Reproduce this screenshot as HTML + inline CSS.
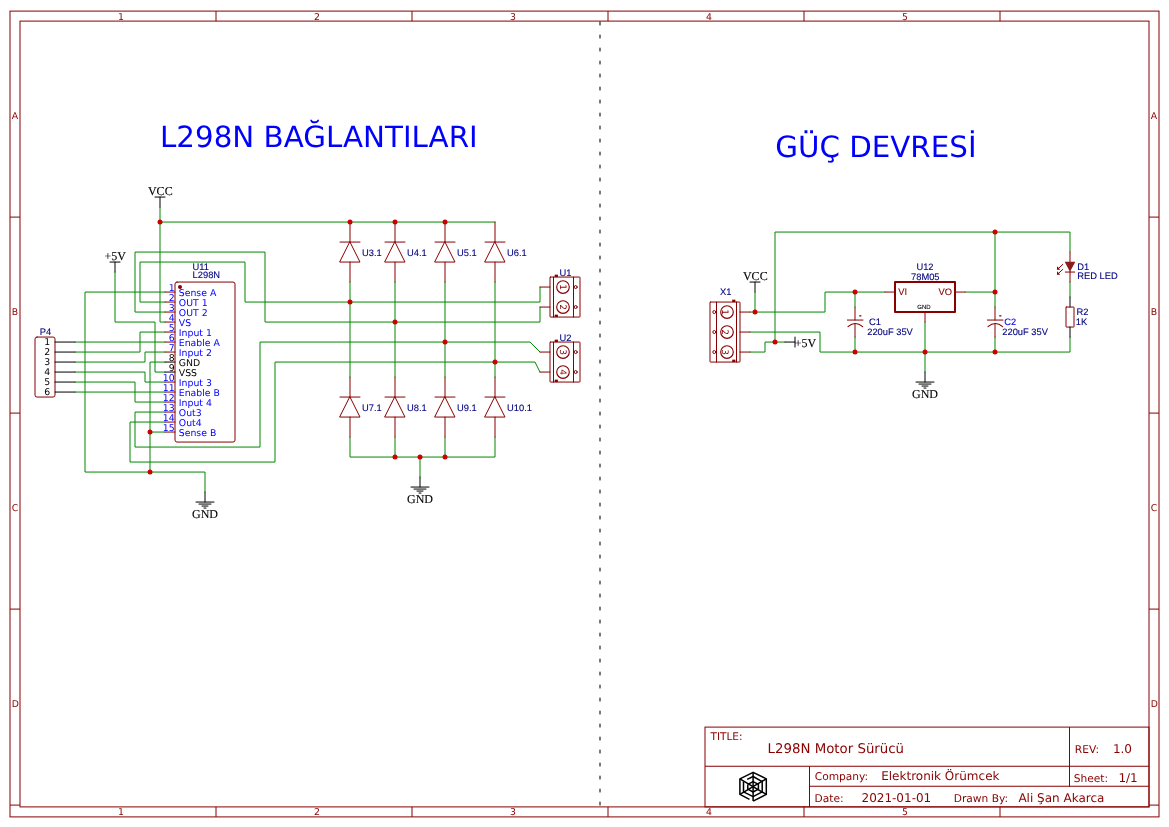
<!DOCTYPE html>
<html lang="tr">
<head>
<meta charset="utf-8">
<title>L298N Motor Sürücü</title>
<style>
html,body{margin:0;padding:0;background:#fff;}
body{width:1169px;height:827px;overflow:hidden;}
svg{display:block;will-change:transform;}
text{white-space:pre;text-rendering:geometricPrecision;}
.dj{font-family:"DejaVu Sans","Liberation Sans",sans-serif;}
.ar{font-family:"Liberation Sans","DejaVu Sans",sans-serif;}
.tm{font-family:"Liberation Serif","DejaVu Serif",serif;}
</style>
</head>
<body>
<svg width="1169" height="827" viewBox="0 0 1169 827">
<rect x="0" y="0" width="1169" height="827" fill="#ffffff"/>
<g id="frame" fill="none" stroke="#880000" stroke-width="1">
<rect x="10" y="11.1" width="1149" height="805.8"/>
<rect x="20" y="21.1" width="1129" height="785.8"/>
<line x1="216" y1="11.1" x2="216" y2="21.1"/>
<line x1="216" y1="806.9" x2="216" y2="816.9"/>
<line x1="412" y1="11.1" x2="412" y2="21.1"/>
<line x1="412" y1="806.9" x2="412" y2="816.9"/>
<line x1="608" y1="11.1" x2="608" y2="21.1"/>
<line x1="608" y1="806.9" x2="608" y2="816.9"/>
<line x1="804" y1="11.1" x2="804" y2="21.1"/>
<line x1="804" y1="806.9" x2="804" y2="816.9"/>
<line x1="1000" y1="11.1" x2="1000" y2="21.1"/>
<line x1="1000" y1="806.9" x2="1000" y2="816.9"/>
<line x1="10" y1="217.1" x2="20" y2="217.1"/>
<line x1="1149" y1="217.1" x2="1159" y2="217.1"/>
<line x1="10" y1="413.1" x2="20" y2="413.1"/>
<line x1="1149" y1="413.1" x2="1159" y2="413.1"/>
<line x1="10" y1="609.1" x2="20" y2="609.1"/>
<line x1="1149" y1="609.1" x2="1159" y2="609.1"/>
<line x1="10" y1="805.1" x2="20" y2="805.1"/>
<line x1="1149" y1="805.1" x2="1159" y2="805.1"/>
</g>
<text transform="matrix(1 0.0004 0 1 118 19.55)" class="dj" font-size="9.33" fill="#880000" >1</text>
<text transform="matrix(1 0.0004 0 1 118 815)" class="dj" font-size="9.33" fill="#880000" >1</text>
<text transform="matrix(1 0.0004 0 1 314 19.55)" class="dj" font-size="9.33" fill="#880000" >2</text>
<text transform="matrix(1 0.0004 0 1 314 815)" class="dj" font-size="9.33" fill="#880000" >2</text>
<text transform="matrix(1 0.0004 0 1 510 19.55)" class="dj" font-size="9.33" fill="#880000" >3</text>
<text transform="matrix(1 0.0004 0 1 510 815)" class="dj" font-size="9.33" fill="#880000" >3</text>
<text transform="matrix(1 0.0004 0 1 706 19.55)" class="dj" font-size="9.33" fill="#880000" >4</text>
<text transform="matrix(1 0.0004 0 1 706 815)" class="dj" font-size="9.33" fill="#880000" >4</text>
<text transform="matrix(1 0.0004 0 1 902 19.55)" class="dj" font-size="9.33" fill="#880000" >5</text>
<text transform="matrix(1 0.0004 0 1 902 815)" class="dj" font-size="9.33" fill="#880000" >5</text>
<text transform="matrix(1 0.0004 0 1 11.7 118.8)" class="dj" font-size="9.33" fill="#880000" >A</text>
<text transform="matrix(1 0.0004 0 1 1150.7 118.8)" class="dj" font-size="9.33" fill="#880000" >A</text>
<text transform="matrix(1 0.0004 0 1 11.7 314.8)" class="dj" font-size="9.33" fill="#880000" >B</text>
<text transform="matrix(1 0.0004 0 1 1150.7 314.8)" class="dj" font-size="9.33" fill="#880000" >B</text>
<text transform="matrix(1 0.0004 0 1 11.7 510.8)" class="dj" font-size="9.33" fill="#880000" >C</text>
<text transform="matrix(1 0.0004 0 1 1150.7 510.8)" class="dj" font-size="9.33" fill="#880000" >C</text>
<text transform="matrix(1 0.0004 0 1 11.7 706.8)" class="dj" font-size="9.33" fill="#880000" >D</text>
<text transform="matrix(1 0.0004 0 1 1150.7 706.8)" class="dj" font-size="9.33" fill="#880000" >D</text>
<g id="sch" transform="translate(0,0.05)" stroke-linecap="round" stroke-linejoin="round">
<g id="wires">
<polyline points="160,207 160,322 165,322" stroke="#008800" stroke-width="1" fill="none" />
<polyline points="160,222 495,222" stroke="#008800" stroke-width="1" fill="none" />
<polyline points="115,272 115,322 155,322 155,372 165,372" stroke="#008800" stroke-width="1" fill="none" />
<polyline points="75,342 165,342" stroke="#008800" stroke-width="1" fill="none" />
<polyline points="75,352 140,352 140,332 165,332" stroke="#008800" stroke-width="1" fill="none" />
<polyline points="75,362 145,362 145,352 165,352" stroke="#008800" stroke-width="1" fill="none" />
<polyline points="75,372 145,372 145,382 165,382" stroke="#008800" stroke-width="1" fill="none" />
<polyline points="75,382 135,382 135,402 165,402" stroke="#008800" stroke-width="1" fill="none" />
<polyline points="75,392 165,392" stroke="#008800" stroke-width="1" fill="none" />
<polyline points="165,292 85,292 85,472 205,472 205,492" stroke="#008800" stroke-width="1" fill="none" />
<polyline points="165,362 150,362 150,472" stroke="#008800" stroke-width="1" fill="none" />
<polyline points="165,432 150,432" stroke="#008800" stroke-width="1" fill="none" />
<polyline points="165,302 140,302 140,262 245,262 245,302 540,302 540,287" stroke="#008800" stroke-width="1" fill="none" />
<polyline points="165,312 135,312 135,252 265,252 265,322 540,322 540,307" stroke="#008800" stroke-width="1" fill="none" />
<polyline points="165,412 135,412 135,447 260,447 260,342 530,342 540,352" stroke="#008800" stroke-width="1" fill="none" />
<polyline points="165,422 130,422 130,462 275,462 275,362 535,362 540,372" stroke="#008800" stroke-width="1" fill="none" />
<polyline points="350,282 350,377" stroke="#008800" stroke-width="1" fill="none" />
<polyline points="395,282 395,377" stroke="#008800" stroke-width="1" fill="none" />
<polyline points="445,282 445,377" stroke="#008800" stroke-width="1" fill="none" />
<polyline points="495,282 495,377" stroke="#008800" stroke-width="1" fill="none" />
<polyline points="350,437 350,457 495,457 495,437" stroke="#008800" stroke-width="1" fill="none" />
<polyline points="395,437 395,457" stroke="#008800" stroke-width="1" fill="none" />
<polyline points="445,437 445,457" stroke="#008800" stroke-width="1" fill="none" />
<polyline points="420,457 420,477" stroke="#008800" stroke-width="1" fill="none" />
<polyline points="755,292 755,312" stroke="#008800" stroke-width="1" fill="none" />
<polyline points="750,312 825,312 825,292 885,292" stroke="#008800" stroke-width="1" fill="none" />
<polyline points="750,332 820,332 820,352 1070,352 1070,337" stroke="#008800" stroke-width="1" fill="none" />
<polyline points="750,352 765,352 765,342 785,342" stroke="#008800" stroke-width="1" fill="none" />
<polyline points="775,342 775,232 1070,232 1070,252" stroke="#008800" stroke-width="1" fill="none" />
<polyline points="995,232 995,307" stroke="#008800" stroke-width="1" fill="none" />
<polyline points="995,337 995,352" stroke="#008800" stroke-width="1" fill="none" />
<polyline points="855,292 855,307" stroke="#008800" stroke-width="1" fill="none" />
<polyline points="855,337 855,352" stroke="#008800" stroke-width="1" fill="none" />
<polyline points="965,292 995,292" stroke="#008800" stroke-width="1" fill="none" />
<polyline points="925,322 925,372" stroke="#008800" stroke-width="1" fill="none" />
<polyline points="1070,282 1070,297" stroke="#008800" stroke-width="1" fill="none" />
</g>
<line x1="350" y1="222" x2="350" y2="242" stroke="#880000" stroke-width="1" />
<line x1="340" y1="242" x2="360" y2="242" stroke="#880000" stroke-width="1" />
<polygon points="350,242 360,262 340,262" fill="none" stroke="#880000" stroke-width="1.0"/>
<line x1="350" y1="262" x2="350" y2="282" stroke="#880000" stroke-width="1" />
<text transform="matrix(1 0.0004 0 1 362.1 255.65)" class="ar" font-size="9.33" fill="#000080" stroke="#000080" stroke-width="0.1" >U3.1</text>
<line x1="350" y1="377" x2="350" y2="397" stroke="#880000" stroke-width="1" />
<line x1="340" y1="397" x2="360" y2="397" stroke="#880000" stroke-width="1" />
<polygon points="350,397 360,417 340,417" fill="none" stroke="#880000" stroke-width="1.0"/>
<line x1="350" y1="417" x2="350" y2="437" stroke="#880000" stroke-width="1" />
<text transform="matrix(1 0.0004 0 1 362.1 410.65)" class="ar" font-size="9.33" fill="#000080" stroke="#000080" stroke-width="0.1" >U7.1</text>
<line x1="395" y1="222" x2="395" y2="242" stroke="#880000" stroke-width="1" />
<line x1="385" y1="242" x2="405" y2="242" stroke="#880000" stroke-width="1" />
<polygon points="395,242 405,262 385,262" fill="none" stroke="#880000" stroke-width="1.0"/>
<line x1="395" y1="262" x2="395" y2="282" stroke="#880000" stroke-width="1" />
<text transform="matrix(1 0.0004 0 1 407.1 255.65)" class="ar" font-size="9.33" fill="#000080" stroke="#000080" stroke-width="0.1" >U4.1</text>
<line x1="395" y1="377" x2="395" y2="397" stroke="#880000" stroke-width="1" />
<line x1="385" y1="397" x2="405" y2="397" stroke="#880000" stroke-width="1" />
<polygon points="395,397 405,417 385,417" fill="none" stroke="#880000" stroke-width="1.0"/>
<line x1="395" y1="417" x2="395" y2="437" stroke="#880000" stroke-width="1" />
<text transform="matrix(1 0.0004 0 1 407.1 410.65)" class="ar" font-size="9.33" fill="#000080" stroke="#000080" stroke-width="0.1" >U8.1</text>
<line x1="445" y1="222" x2="445" y2="242" stroke="#880000" stroke-width="1" />
<line x1="435" y1="242" x2="455" y2="242" stroke="#880000" stroke-width="1" />
<polygon points="445,242 455,262 435,262" fill="none" stroke="#880000" stroke-width="1.0"/>
<line x1="445" y1="262" x2="445" y2="282" stroke="#880000" stroke-width="1" />
<text transform="matrix(1 0.0004 0 1 457.1 255.65)" class="ar" font-size="9.33" fill="#000080" stroke="#000080" stroke-width="0.1" >U5.1</text>
<line x1="445" y1="377" x2="445" y2="397" stroke="#880000" stroke-width="1" />
<line x1="435" y1="397" x2="455" y2="397" stroke="#880000" stroke-width="1" />
<polygon points="445,397 455,417 435,417" fill="none" stroke="#880000" stroke-width="1.0"/>
<line x1="445" y1="417" x2="445" y2="437" stroke="#880000" stroke-width="1" />
<text transform="matrix(1 0.0004 0 1 457.1 410.65)" class="ar" font-size="9.33" fill="#000080" stroke="#000080" stroke-width="0.1" >U9.1</text>
<line x1="495" y1="222" x2="495" y2="242" stroke="#880000" stroke-width="1" />
<line x1="485" y1="242" x2="505" y2="242" stroke="#880000" stroke-width="1" />
<polygon points="495,242 505,262 485,262" fill="none" stroke="#880000" stroke-width="1.0"/>
<line x1="495" y1="262" x2="495" y2="282" stroke="#880000" stroke-width="1" />
<text transform="matrix(1 0.0004 0 1 507.1 255.65)" class="ar" font-size="9.33" fill="#000080" stroke="#000080" stroke-width="0.1" >U6.1</text>
<line x1="495" y1="377" x2="495" y2="397" stroke="#880000" stroke-width="1" />
<line x1="485" y1="397" x2="505" y2="397" stroke="#880000" stroke-width="1" />
<polygon points="495,397 505,417 485,417" fill="none" stroke="#880000" stroke-width="1.0"/>
<line x1="495" y1="417" x2="495" y2="437" stroke="#880000" stroke-width="1" />
<text transform="matrix(1 0.0004 0 1 507.1 410.65)" class="ar" font-size="9.33" fill="#000080" stroke="#000080" stroke-width="0.1" >U10.1</text>
<rect x="35" y="337" width="20" height="60" rx="2" fill="none" stroke="#880000" stroke-width="1.0"/>
<line x1="55" y1="342" x2="75" y2="342" stroke="#000" stroke-width="1" />
<text transform="matrix(1 0.0004 0 1 44.2 345.1)" class="dj" font-size="9.33" fill="#000" >1</text>
<line x1="55" y1="352" x2="75" y2="352" stroke="#000" stroke-width="1" />
<text transform="matrix(1 0.0004 0 1 44.2 355.1)" class="dj" font-size="9.33" fill="#000" >2</text>
<line x1="55" y1="362" x2="75" y2="362" stroke="#000" stroke-width="1" />
<text transform="matrix(1 0.0004 0 1 44.2 365.1)" class="dj" font-size="9.33" fill="#000" >3</text>
<line x1="55" y1="372" x2="75" y2="372" stroke="#000" stroke-width="1" />
<text transform="matrix(1 0.0004 0 1 44.2 375.1)" class="dj" font-size="9.33" fill="#000" >4</text>
<line x1="55" y1="382" x2="75" y2="382" stroke="#000" stroke-width="1" />
<text transform="matrix(1 0.0004 0 1 44.2 385.1)" class="dj" font-size="9.33" fill="#000" >5</text>
<line x1="55" y1="392" x2="75" y2="392" stroke="#000" stroke-width="1" />
<text transform="matrix(1 0.0004 0 1 44.2 395.1)" class="dj" font-size="9.33" fill="#000" >6</text>
<text transform="matrix(1 0.0004 0 1 39.7 334.6)" class="ar" font-size="9.33" fill="#000080" stroke="#000080" stroke-width="0.1" >P4</text>
<rect x="175" y="282" width="60" height="160" rx="2" fill="none" stroke="#880000" stroke-width="1.0"/>
<circle cx="180" cy="286.9" r="2" fill="#880000"/>
<line x1="165" y1="292" x2="175" y2="292" stroke="#880000" stroke-width="1" />
<text transform="matrix(1 0.0004 0 1 174.6 291.3)" class="dj" font-size="9.33" fill="#0000ff" text-anchor="end" >1</text>
<text transform="matrix(1 0.0004 0 1 178.8 295.6)" class="dj" font-size="9.33" fill="#0000ff" >Sense A</text>
<line x1="165" y1="302" x2="175" y2="302" stroke="#880000" stroke-width="1" />
<text transform="matrix(1 0.0004 0 1 174.6 301.3)" class="dj" font-size="9.33" fill="#0000ff" text-anchor="end" >2</text>
<text transform="matrix(1 0.0004 0 1 178.8 305.6)" class="dj" font-size="9.33" fill="#0000ff" >OUT 1</text>
<line x1="165" y1="312" x2="175" y2="312" stroke="#880000" stroke-width="1" />
<text transform="matrix(1 0.0004 0 1 174.6 311.3)" class="dj" font-size="9.33" fill="#0000ff" text-anchor="end" >3</text>
<text transform="matrix(1 0.0004 0 1 178.8 315.6)" class="dj" font-size="9.33" fill="#0000ff" >OUT 2</text>
<line x1="165" y1="322" x2="175" y2="322" stroke="#880000" stroke-width="1" />
<text transform="matrix(1 0.0004 0 1 174.6 321.3)" class="dj" font-size="9.33" fill="#0000ff" text-anchor="end" >4</text>
<text transform="matrix(1 0.0004 0 1 178.8 325.6)" class="dj" font-size="9.33" fill="#0000ff" >VS</text>
<line x1="165" y1="332" x2="175" y2="332" stroke="#880000" stroke-width="1" />
<text transform="matrix(1 0.0004 0 1 174.6 331.3)" class="dj" font-size="9.33" fill="#0000ff" text-anchor="end" >5</text>
<text transform="matrix(1 0.0004 0 1 178.8 335.6)" class="dj" font-size="9.33" fill="#0000ff" >Input 1</text>
<line x1="165" y1="342" x2="175" y2="342" stroke="#880000" stroke-width="1" />
<text transform="matrix(1 0.0004 0 1 174.6 341.3)" class="dj" font-size="9.33" fill="#0000ff" text-anchor="end" >6</text>
<text transform="matrix(1 0.0004 0 1 178.8 345.6)" class="dj" font-size="9.33" fill="#0000ff" >Enable A</text>
<line x1="165" y1="352" x2="175" y2="352" stroke="#880000" stroke-width="1" />
<text transform="matrix(1 0.0004 0 1 174.6 351.3)" class="dj" font-size="9.33" fill="#0000ff" text-anchor="end" >7</text>
<text transform="matrix(1 0.0004 0 1 178.8 355.6)" class="dj" font-size="9.33" fill="#0000ff" >Input 2</text>
<line x1="165" y1="362" x2="175" y2="362" stroke="#000" stroke-width="1" />
<text transform="matrix(1 0.0004 0 1 174.6 361.3)" class="dj" font-size="9.33" fill="#000" text-anchor="end" >8</text>
<text transform="matrix(1 0.0004 0 1 178.8 365.6)" class="dj" font-size="9.33" fill="#000" >GND</text>
<line x1="165" y1="372" x2="175" y2="372" stroke="#000" stroke-width="1" />
<text transform="matrix(1 0.0004 0 1 174.6 371.3)" class="dj" font-size="9.33" fill="#000" text-anchor="end" >9</text>
<text transform="matrix(1 0.0004 0 1 178.8 375.6)" class="dj" font-size="9.33" fill="#000" >VSS</text>
<line x1="165" y1="382" x2="175" y2="382" stroke="#880000" stroke-width="1" />
<text transform="matrix(1 0.0004 0 1 174.6 381.3)" class="dj" font-size="9.33" fill="#0000ff" text-anchor="end" >10</text>
<text transform="matrix(1 0.0004 0 1 178.8 385.6)" class="dj" font-size="9.33" fill="#0000ff" >Input 3</text>
<line x1="165" y1="392" x2="175" y2="392" stroke="#880000" stroke-width="1" />
<text transform="matrix(1 0.0004 0 1 174.6 391.3)" class="dj" font-size="9.33" fill="#0000ff" text-anchor="end" >11</text>
<text transform="matrix(1 0.0004 0 1 178.8 395.6)" class="dj" font-size="9.33" fill="#0000ff" >Enable B</text>
<line x1="165" y1="402" x2="175" y2="402" stroke="#880000" stroke-width="1" />
<text transform="matrix(1 0.0004 0 1 174.6 401.3)" class="dj" font-size="9.33" fill="#0000ff" text-anchor="end" >12</text>
<text transform="matrix(1 0.0004 0 1 178.8 405.6)" class="dj" font-size="9.33" fill="#0000ff" >Input 4</text>
<line x1="165" y1="412" x2="175" y2="412" stroke="#880000" stroke-width="1" />
<text transform="matrix(1 0.0004 0 1 174.6 411.3)" class="dj" font-size="9.33" fill="#0000ff" text-anchor="end" >13</text>
<text transform="matrix(1 0.0004 0 1 178.8 415.6)" class="dj" font-size="9.33" fill="#0000ff" >Out3</text>
<line x1="165" y1="422" x2="175" y2="422" stroke="#880000" stroke-width="1" />
<text transform="matrix(1 0.0004 0 1 174.6 421.3)" class="dj" font-size="9.33" fill="#0000ff" text-anchor="end" >14</text>
<text transform="matrix(1 0.0004 0 1 178.8 425.6)" class="dj" font-size="9.33" fill="#0000ff" >Out4</text>
<line x1="165" y1="432" x2="175" y2="432" stroke="#880000" stroke-width="1" />
<text transform="matrix(1 0.0004 0 1 174.6 431.3)" class="dj" font-size="9.33" fill="#0000ff" text-anchor="end" >15</text>
<text transform="matrix(1 0.0004 0 1 178.8 435.6)" class="dj" font-size="9.33" fill="#0000ff" >Sense B</text>
<text transform="matrix(1 0.0004 0 1 192.6 269.6)" class="ar" font-size="9.33" fill="#000080" stroke="#000080" stroke-width="0.1" >U11</text>
<text transform="matrix(1 0.0004 0 1 192.6 278.1)" class="ar" font-size="9.33" fill="#000080" stroke="#000080" stroke-width="0.1" >L298N</text>
<rect x="550" y="277" width="30" height="40" rx="0.4" fill="none" stroke="#880000" stroke-width="1.0"/>
<line x1="553.5" y1="277" x2="553.5" y2="317" stroke="#880000" stroke-width="1" />
<line x1="573.5" y1="277" x2="573.5" y2="317" stroke="#880000" stroke-width="1" />
<rect x="554.7" y="274.6" width="3.2" height="2.4" fill="#880000"/>
<rect x="554.7" y="314.6" width="3.2" height="2.4" fill="#880000"/>
<circle cx="563" cy="287" r="6.3" fill="none" stroke="#880000" stroke-width="1.15"/>
<circle cx="575.7" cy="287" r="1.5" fill="none" stroke="#880000" stroke-width="1"/>
<text transform="translate(560.1,287) rotate(90)" text-anchor="middle" class="dj" font-size="9" fill="#880000">1</text>
<line x1="540" y1="287" x2="550" y2="287" stroke="#880000" stroke-width="1" />
<circle cx="563" cy="307" r="6.3" fill="none" stroke="#880000" stroke-width="1.15"/>
<circle cx="575.7" cy="307" r="1.5" fill="none" stroke="#880000" stroke-width="1"/>
<text transform="translate(560.1,307) rotate(90)" text-anchor="middle" class="dj" font-size="9" fill="#880000">2</text>
<line x1="540" y1="307" x2="550" y2="307" stroke="#880000" stroke-width="1" />
<text transform="matrix(1 0.0004 0 1 559.5 275.7)" class="ar" font-size="9.33" fill="#000080" stroke="#000080" stroke-width="0.1" >U1</text>
<rect x="550" y="342" width="30" height="40" rx="0.4" fill="none" stroke="#880000" stroke-width="1.0"/>
<line x1="553.5" y1="342" x2="553.5" y2="382" stroke="#880000" stroke-width="1" />
<line x1="573.5" y1="342" x2="573.5" y2="382" stroke="#880000" stroke-width="1" />
<rect x="554.7" y="339.6" width="3.2" height="2.4" fill="#880000"/>
<rect x="554.7" y="379.6" width="3.2" height="2.4" fill="#880000"/>
<circle cx="563" cy="352" r="6.3" fill="none" stroke="#880000" stroke-width="1.15"/>
<circle cx="575.7" cy="352" r="1.5" fill="none" stroke="#880000" stroke-width="1"/>
<text transform="translate(560.1,352) rotate(90)" text-anchor="middle" class="dj" font-size="9" fill="#880000">3</text>
<line x1="540" y1="352" x2="550" y2="352" stroke="#880000" stroke-width="1" />
<circle cx="563" cy="372" r="6.3" fill="none" stroke="#880000" stroke-width="1.15"/>
<circle cx="575.7" cy="372" r="1.5" fill="none" stroke="#880000" stroke-width="1"/>
<text transform="translate(560.1,372) rotate(90)" text-anchor="middle" class="dj" font-size="9" fill="#880000">4</text>
<line x1="540" y1="372" x2="550" y2="372" stroke="#880000" stroke-width="1" />
<text transform="matrix(1 0.0004 0 1 559.5 340.7)" class="ar" font-size="9.33" fill="#000080" stroke="#000080" stroke-width="0.1" >U2</text>
<rect x="710" y="302" width="30" height="60" rx="0.4" fill="none" stroke="#880000" stroke-width="1.0"/>
<line x1="736.5" y1="302" x2="736.5" y2="362" stroke="#880000" stroke-width="1" />
<line x1="716.5" y1="302" x2="716.5" y2="362" stroke="#880000" stroke-width="1" />
<rect x="732.2" y="299.6" width="3.2" height="2.4" fill="#880000"/>
<rect x="732.2" y="359.6" width="3.2" height="2.4" fill="#880000"/>
<circle cx="727" cy="312" r="6.3" fill="none" stroke="#880000" stroke-width="1.15"/>
<circle cx="714.3" cy="312" r="1.5" fill="none" stroke="#880000" stroke-width="1"/>
<text transform="translate(722.2,312) rotate(90)" text-anchor="middle" class="dj" font-size="9" fill="#880000">1</text>
<line x1="740" y1="312" x2="750" y2="312" stroke="#880000" stroke-width="1" />
<circle cx="727" cy="332" r="6.3" fill="none" stroke="#880000" stroke-width="1.15"/>
<circle cx="714.3" cy="332" r="1.5" fill="none" stroke="#880000" stroke-width="1"/>
<text transform="translate(722.2,332) rotate(90)" text-anchor="middle" class="dj" font-size="9" fill="#880000">2</text>
<line x1="740" y1="332" x2="750" y2="332" stroke="#880000" stroke-width="1" />
<circle cx="727" cy="352" r="6.3" fill="none" stroke="#880000" stroke-width="1.15"/>
<circle cx="714.3" cy="352" r="1.5" fill="none" stroke="#880000" stroke-width="1"/>
<text transform="translate(722.2,352) rotate(90)" text-anchor="middle" class="dj" font-size="9" fill="#880000">3</text>
<line x1="740" y1="352" x2="750" y2="352" stroke="#880000" stroke-width="1" />
<text transform="matrix(1 0.0004 0 1 720 295.1)" class="ar" font-size="9.33" fill="#000080" stroke="#000080" stroke-width="0.1" >X1</text>
<line x1="160" y1="207" x2="160" y2="197" stroke="#000" stroke-width="1" />
<line x1="155" y1="197" x2="165" y2="197" stroke="#000" stroke-width="1" />
<text transform="matrix(1 0.0004 0 1 160.3 195.1)" class="tm" font-size="12" fill="#000" text-anchor="middle" stroke="#000" stroke-width="0.1" >VCC</text>
<line x1="115" y1="272" x2="115" y2="262" stroke="#000" stroke-width="1" />
<line x1="110" y1="262" x2="120" y2="262" stroke="#000" stroke-width="1" />
<text transform="matrix(1 0.0004 0 1 115.3 260.1)" class="tm" font-size="12" fill="#000" text-anchor="middle" stroke="#000" stroke-width="0.1" >+5V</text>
<line x1="755" y1="292" x2="755" y2="282" stroke="#000" stroke-width="1" />
<line x1="750" y1="282" x2="760" y2="282" stroke="#000" stroke-width="1" />
<text transform="matrix(1 0.0004 0 1 755.3 280.1)" class="tm" font-size="12" fill="#000" text-anchor="middle" stroke="#000" stroke-width="0.1" >VCC</text>
<line x1="205" y1="492" x2="205" y2="502" stroke="#000" stroke-width="1" />
<line x1="196" y1="502" x2="214" y2="502" stroke="#000" stroke-width="1" />
<line x1="199" y1="504" x2="211" y2="504" stroke="#000" stroke-width="1" />
<line x1="202" y1="506" x2="208" y2="506" stroke="#000" stroke-width="1" />
<line x1="204" y1="508" x2="206" y2="508" stroke="#000" stroke-width="1" />
<text transform="matrix(1 0.0004 0 1 205 518.2)" class="tm" font-size="12" fill="#000" text-anchor="middle" stroke="#000" stroke-width="0.1" >GND</text>
<line x1="420" y1="477" x2="420" y2="487" stroke="#000" stroke-width="1" />
<line x1="411" y1="487" x2="429" y2="487" stroke="#000" stroke-width="1" />
<line x1="414" y1="489" x2="426" y2="489" stroke="#000" stroke-width="1" />
<line x1="417" y1="491" x2="423" y2="491" stroke="#000" stroke-width="1" />
<line x1="419" y1="493" x2="421" y2="493" stroke="#000" stroke-width="1" />
<text transform="matrix(1 0.0004 0 1 420 503.2)" class="tm" font-size="12" fill="#000" text-anchor="middle" stroke="#000" stroke-width="0.1" >GND</text>
<line x1="925" y1="372" x2="925" y2="382" stroke="#000" stroke-width="1" />
<line x1="916" y1="382" x2="934" y2="382" stroke="#000" stroke-width="1" />
<line x1="919" y1="384" x2="931" y2="384" stroke="#000" stroke-width="1" />
<line x1="922" y1="386" x2="928" y2="386" stroke="#000" stroke-width="1" />
<line x1="924" y1="388" x2="926" y2="388" stroke="#000" stroke-width="1" />
<text transform="matrix(1 0.0004 0 1 925 398.2)" class="tm" font-size="12" fill="#000" text-anchor="middle" stroke="#000" stroke-width="0.1" >GND</text>
<line x1="785" y1="342" x2="795" y2="342" stroke="#000" stroke-width="1" />
<line x1="795" y1="337" x2="795" y2="347" stroke="#000" stroke-width="1" />
<text transform="matrix(1 0.0004 0 1 794.8 346.9)" class="tm" font-size="12" fill="#000" stroke="#000" stroke-width="0.1" >+5V</text>
<rect x="895" y="282" width="60" height="30" fill="none" stroke="#880000" stroke-width="2"/>
<line x1="885" y1="292" x2="895" y2="292" stroke="#880000" stroke-width="1" />
<line x1="955" y1="292" x2="965" y2="292" stroke="#880000" stroke-width="1" />
<line x1="925" y1="312" x2="925" y2="322" stroke="#880000" stroke-width="1" />
<text transform="matrix(1 0.0004 0 1 898.2 294.6)" class="ar" font-size="9.33" fill="#880000" stroke="#880000" stroke-width="0.1" >VI</text>
<text transform="matrix(1 0.0004 0 1 952 294.6)" class="ar" font-size="9.33" fill="#880000" text-anchor="end" stroke="#880000" stroke-width="0.1" >VO</text>
<text transform="matrix(1 0.0004 0 1 924 308.6)" class="ar" font-size="6" fill="#000" text-anchor="middle" stroke="#000" stroke-width="0.1" >GND</text>
<text transform="matrix(1 0.0004 0 1 925 269.8)" class="ar" font-size="9.33" fill="#000080" text-anchor="middle" stroke="#000080" stroke-width="0.1" >U12</text>
<text transform="matrix(1 0.0004 0 1 925.3 279.8)" class="ar" font-size="9.33" fill="#000080" text-anchor="middle" stroke="#000080" stroke-width="0.1" >78M05</text>
<line x1="855" y1="307" x2="855" y2="320" stroke="#880000" stroke-width="1" />
<line x1="847.4" y1="320" x2="863" y2="320" stroke="#880000" stroke-width="1" />
<path d="M848 326.6 Q855.3 320.3 862.6 326.6" fill="none" stroke="#880000" stroke-width="1.15"/>
<line x1="855" y1="323.8" x2="855" y2="337" stroke="#880000" stroke-width="1" />
<line x1="859.7" y1="315.8" x2="860.9" y2="315.8" stroke="#880000" stroke-width="1.4" />
<text transform="matrix(1 0.0004 0 1 869 325.2)" class="ar" font-size="9.33" fill="#000080" stroke="#000080" stroke-width="0.1" >C1</text>
<text transform="matrix(1 0.0004 0 1 867.2 335.4)" class="ar" font-size="9.33" fill="#000080" stroke="#000080" stroke-width="0.1" >220uF 35V</text>
<line x1="995" y1="307" x2="995" y2="320" stroke="#880000" stroke-width="1" />
<line x1="987.4" y1="320" x2="1003" y2="320" stroke="#880000" stroke-width="1" />
<path d="M988 326.6 Q995.3 320.3 1002.6 326.6" fill="none" stroke="#880000" stroke-width="1.15"/>
<line x1="995" y1="323.8" x2="995" y2="337" stroke="#880000" stroke-width="1" />
<line x1="999.7" y1="315.8" x2="1000.9" y2="315.8" stroke="#880000" stroke-width="1.4" />
<text transform="matrix(1 0.0004 0 1 1004.2 325.2)" class="ar" font-size="9.33" fill="#0000ff" stroke="#0000ff" stroke-width="0.1" >C2</text>
<text transform="matrix(1 0.0004 0 1 1002.3 335.4)" class="ar" font-size="9.33" fill="#000080" stroke="#000080" stroke-width="0.1" >220uF 35V</text>
<line x1="1070" y1="252" x2="1070" y2="262" stroke="#880000" stroke-width="1" />
<polygon points="1064.65,261.75 1075.35,261.75 1070,271.7" fill="#8a1c1c" stroke="none"/>
<line x1="1065.3" y1="272" x2="1074.7" y2="272" stroke="#880000" stroke-width="1" />
<line x1="1070" y1="271" x2="1070" y2="282" stroke="#880000" stroke-width="1" />
<line x1="1062.8" y1="264.3" x2="1058.6" y2="268.2" stroke="#880000" stroke-width="1" />
<polygon points="1056.9,269.8 1057.1,266.2 1060.3,269.6" fill="#880000" stroke="none"/>
<line x1="1062.8" y1="269.3" x2="1058.6" y2="273.2" stroke="#880000" stroke-width="1" />
<polygon points="1056.9,274.8 1057.1,271.2 1060.3,274.6" fill="#880000" stroke="none"/>
<text transform="matrix(1 0.0004 0 1 1077.3 269.9)" class="ar" font-size="9.33" fill="#000080" stroke="#000080" stroke-width="0.1" >D1</text>
<text transform="matrix(1 0.0004 0 1 1077.2 278.7)" class="ar" font-size="9.33" fill="#000080" stroke="#000080" stroke-width="0.1" >RED LED</text>
<line x1="1070" y1="297" x2="1070" y2="307" stroke="#000" stroke-width="1" />
<rect x="1066" y="307" width="8" height="20" rx="0.3" fill="none" stroke="#880000" stroke-width="1.0"/>
<line x1="1070" y1="327" x2="1070" y2="337" stroke="#000" stroke-width="1" />
<text transform="matrix(1 0.0004 0 1 1076.4 314.8)" class="ar" font-size="9.33" fill="#000080" stroke="#000080" stroke-width="0.1" >R2</text>
<text transform="matrix(1 0.0004 0 1 1075.7 324.7)" class="ar" font-size="9.33" fill="#000080" stroke="#000080" stroke-width="0.1" >1K</text>
<g id="junctions" fill="#cc0000">
<circle cx="160" cy="222" r="2.5"/>
<circle cx="350" cy="222" r="2.5"/>
<circle cx="395" cy="222" r="2.5"/>
<circle cx="445" cy="222" r="2.5"/>
<circle cx="350" cy="302" r="2.5"/>
<circle cx="395" cy="322" r="2.5"/>
<circle cx="445" cy="342" r="2.5"/>
<circle cx="495" cy="362" r="2.5"/>
<circle cx="150" cy="432" r="2.5"/>
<circle cx="150" cy="472" r="2.5"/>
<circle cx="395" cy="457" r="2.5"/>
<circle cx="420" cy="457" r="2.5"/>
<circle cx="445" cy="457" r="2.5"/>
<circle cx="755" cy="312" r="2.5"/>
<circle cx="775" cy="342" r="2.5"/>
<circle cx="855" cy="292" r="2.5"/>
<circle cx="855" cy="352" r="2.5"/>
<circle cx="925" cy="352" r="2.5"/>
<circle cx="995" cy="232" r="2.5"/>
<circle cx="995" cy="292" r="2.5"/>
<circle cx="995" cy="352" r="2.5"/>
</g>
</g>
<text transform="matrix(1 0.0004 0 1 160 146.9)" class="dj" font-size="29.33" fill="#0000ff" >L298N BAĞLANTILARI</text>
<text transform="matrix(1 0.0004 0 1 775.2 156.5)" class="dj" font-size="29.33" fill="#0000ff" >GÜÇ DEVRESİ</text>
<line x1="600" y1="22" x2="600" y2="806" stroke="#000" stroke-width="1.05" stroke-linecap="round" stroke-dasharray="3 10"/>
<g id="titleblock" fill="none" stroke="#880000" stroke-width="1">
<rect x="705" y="727.1" width="444" height="79.8"/>
<line x1="705" y1="766.25" x2="1149" y2="766.25"/>
<line x1="809.5" y1="786.25" x2="1149" y2="786.25"/>
<line x1="809.5" y1="766.25" x2="809.5" y2="806.9"/>
<line x1="1069.5" y1="727.1" x2="1069.5" y2="786.6"/>
</g>
<text transform="matrix(1 0.0004 0 1 710.5 739.9)" class="dj" font-size="10.5" fill="#880000" >TITLE:</text>
<text transform="matrix(1 0.0004 0 1 767.6 752.7)" class="dj" font-size="13.33" fill="#880000" >L298N Motor Sürücü</text>
<text transform="matrix(1 0.0004 0 1 1074.85 752.7)" class="dj" font-size="10.67" fill="#880000" >REV:</text>
<text transform="matrix(1 0.0004 0 1 1112.9 752.7)" class="dj" font-size="12" fill="#880000" >1.0</text>
<text transform="matrix(1 0.0004 0 1 814.7 780.1)" class="dj" font-size="10.67" fill="#880000" >Company:</text>
<text transform="matrix(1 0.0004 0 1 881.2 780.1)" class="dj" font-size="12" fill="#880000" >Elektronik Örümcek</text>
<text transform="matrix(1 0.0004 0 1 1073.65 781.8)" class="dj" font-size="10.67" fill="#880000" >Sheet:</text>
<text transform="matrix(1 0.0004 0 1 1118.4 782.4)" class="dj" font-size="12" fill="#880000" >1/1</text>
<text transform="matrix(1 0.0004 0 1 814.5 802)" class="dj" font-size="10.67" fill="#880000" >Date:</text>
<text transform="matrix(1 0.0004 0 1 861.5 802)" class="dj" font-size="12" fill="#880000" >2021-01-01</text>
<text transform="matrix(1 0.0004 0 1 953.7 802)" class="dj" font-size="10.67" fill="#880000" >Drawn By:</text>
<text transform="matrix(1 0.0004 0 1 1018.4 802)" class="dj" font-size="12" fill="#880000" >Ali Şan Akarca</text>
<g id="logo" fill="none" stroke="#000" stroke-width="1.5" stroke-linejoin="round">
<line x1="753.10" y1="772.30" x2="753.10" y2="801.10"/>
<line x1="766.30" y1="778.80" x2="739.90" y2="794.40"/>
<line x1="766.30" y1="794.40" x2="739.90" y2="778.80"/>
<polyline points="749.50,799.40 739.90,794.40 739.90,778.80 753.10,772.30 766.30,778.80 766.30,794.40 753.10,801.10"/>
<polyline points="747.20,779.40 753.10,776.50 762.20,781.60 762.20,791.80 753.10,796.70 743.50,791.80 743.50,781.60"/>
<polyline points="747.80,784.40 753.10,781.60 758.40,784.40 758.40,789.20 753.10,792.00 747.80,789.20 747.80,784.40"/>
</g>
</svg>
</body>
</html>
